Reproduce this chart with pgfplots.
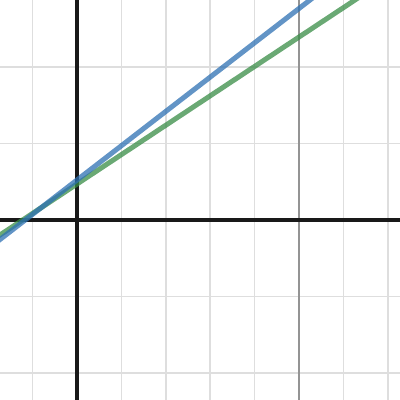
\documentclass[border=0pt]{standalone}
\usepackage{pgfplots}
\pgfplotsset{compat=1.18}
\definecolor{dblue}{HTML}{2D70B3}
\definecolor{dgreen}{HTML}{388C46}
\begin{document}
\begin{tikzpicture}
\begin{axis}[
  width=400bp, height=400bp, scale only axis,
  xmin=-1.734, xmax=7.275, ymin=-2.353, ymax=2.876,
  axis line style={draw=none},
  xtick={-1,0,1,2,3,4,5,6,7}, ytick={-2,-1,0,1,2},
  xticklabels={}, yticklabels={},
  tick style={draw=none},
  grid=major,
  grid style={draw=black!13, line width=1.6bp},
  clip=true,
]
\addplot[black!42, line width=1.8bp] coordinates {(5,-3) (5,3)};
\addplot[black!90, line width=3.2bp] coordinates {(0,-3) (0,3)};
\addplot[black!90, line width=3.2bp] coordinates {(-2,0) (8,0)};
\addplot[dgreen, opacity=0.75, line width=5bp] coordinates {(-2,-0.298) (7.5,3.352)};
\addplot[dblue, opacity=0.75, line width=5bp] coordinates {(-2,-0.374) (6,3.213)};
\end{axis}
\pgfresetboundingbox
\path (current axis.south west) rectangle (current axis.north east);
\end{tikzpicture}
\end{document}
